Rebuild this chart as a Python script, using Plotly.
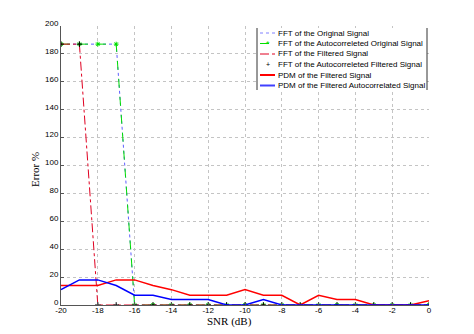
import plotly.graph_objects as go

snr = list(range(-20, 1))
fft_orig = [187, 187, 187, 187, 0, 0, 0, 0, 0, 0, 0, 0, 0, 0, 0, 0, 0, 0, 0, 0, 0]
fft_auto_orig = [187, 187, 187, 187, 0, 0, 0, 0, 0, 0, 0, 0, 0, 0, 0, 0, 0, 0, 0, 0, 0]
fft_filt = [187, 187, 0, 0, 0, 0, 0, 0, 0, 0, 0, 0, 0, 0, 0, 0, 0, 0, 0, 0, 0]
fft_auto_filt = [187, 187, 0, 0, 0, 0, 0, 0, 0, 0, 0, 0, 0, 0, 0, 0, 0, 0, 0, 0, 0]
pdm_filt = [14, 14, 14, 18, 18, 14, 11, 7, 7, 7, 11, 7, 7, 0, 7, 4, 4, 0, 0, 0, 3]
pdm_auto_filt = [11, 18, 18, 14, 7, 7, 4, 4, 4, 0, 0, 4, 0, 0, 0, 0, 0, 0, 0, 0, 0]

x_ticks = [-20, -18, -16, -14, -12, -10, -8, -6, -4, -2, 0]
y_ticks = [0, 20, 40, 60, 80, 100, 120, 140, 160, 180, 200]

series_names = [
    "FFT of the Original Signal",
    "FFT of the Autocorreleted Original Signal",
    "FFT of the Filtered Signal",
    "FFT of the Autocorreleted Filtered Signal",
    "PDM of the Filtered Signal",
    "PDM of the Filtered Autocorrelated Signal",
]

BLUE_DOT = "#6060ff"
GREEN = "#00e000"
RED_DD = "#e00020"

fig = go.Figure()
fig.add_trace(go.Scatter(x=snr, y=fft_orig, mode="lines", name=series_names[0],
                         line=dict(color=BLUE_DOT, width=1, dash="dot")))
fig.add_trace(go.Scatter(x=snr, y=fft_auto_orig, mode="lines+markers", name=series_names[1],
                         line=dict(color=GREEN, width=1, dash="dash"),
                         marker=dict(symbol="asterisk-open", size=4, color=GREEN, line=dict(color=GREEN, width=1))))
fig.add_trace(go.Scatter(x=snr, y=fft_filt, mode="lines", name=series_names[2],
                         line=dict(color=RED_DD, width=1, dash="dashdot")))
fig.add_trace(go.Scatter(x=snr, y=fft_auto_filt, mode="markers", name=series_names[3],
                         marker=dict(symbol="cross-thin-open", size=4, color="black", line=dict(color="black", width=1))))
fig.add_trace(go.Scatter(x=snr, y=pdm_filt, mode="lines", name=series_names[4],
                         line=dict(color="#ff0000", width=1.5)))
fig.add_trace(go.Scatter(x=snr, y=pdm_auto_filt, mode="lines", name=series_names[5],
                         line=dict(color="#0000ff", width=1.5)))

# ---- custom compact legend (paper coordinates) ----
L, R, T, B = 61, 429, 26, 305
def px(x):
    return (x - L) / (R - L)
def py(y):
    return (B - y) / (B - T)

shapes = []
annotations = []
shapes.append(dict(type="rect", xref="paper", yref="paper", x0=px(257), x1=px(427), y0=py(90), y1=py(28),
                   fillcolor="white", line=dict(width=0), layer="above"))
for xb in (257, 427):
    shapes.append(dict(type="line", xref="paper", yref="paper", x0=px(xb), x1=px(xb), y0=py(90), y1=py(28),
                       line=dict(color="#333", width=1), layer="above"))

rows = [33, 43.5, 54, 64.5, 75, 85.5]
styles = [
    dict(color="#8080ff", width=1, dash="dot"),
    dict(color=GREEN, width=1, dash="dash"),
    dict(color=RED_DD, width=1, dash="dashdot"),
    None,
    dict(color="#ff0000", width=2),
    dict(color="#4040ff", width=2),
]
for i, (name, ry) in enumerate(zip(series_names, rows)):
    if styles[i] is not None:
        shapes.append(dict(type="line", xref="paper", yref="paper", x0=px(260), x1=px(275), y0=py(ry), y1=py(ry),
                           line=styles[i], layer="above"))
    annotations.append(dict(xref="paper", yref="paper", x=px(276), y=py(ry), text=name, showarrow=False,
                            xanchor="left", yanchor="middle",
                            font=dict(family="Liberation Sans, Arial", size=8, color="black")))
annotations.append(dict(xref="paper", yref="paper", x=px(267.5), y=py(rows[1]), text="*", showarrow=False,
                        xanchor="center", yanchor="middle",
                        font=dict(family="Liberation Sans, Arial", size=9, color=GREEN)))
annotations.append(dict(xref="paper", yref="paper", x=px(267.5), y=py(rows[3]), text="+", showarrow=False,
                        xanchor="center", yanchor="middle",
                        font=dict(family="Liberation Sans, Arial", size=7, color="black")))

# axis titles
annotations.append(dict(xref="paper", yref="paper", x=px(229), y=py(321.5), text="SNR (dB)", showarrow=False,
                        xanchor="center", yanchor="middle",
                        font=dict(family="Liberation Serif, Times New Roman", size=11, color="black")))
annotations.append(dict(xref="paper", yref="paper", x=px(35), y=py(170), text="Error %", showarrow=False,
                        textangle=-90, xanchor="center", yanchor="middle",
                        font=dict(family="Liberation Serif, Times New Roman", size=11, color="black")))

fig.update_layout(
    width=474, height=334,
    margin=dict(l=L, r=474 - R, t=T, b=334 - B),
    paper_bgcolor="white", plot_bgcolor="white",
    font=dict(family="Liberation Sans, Arial", size=8, color="black"),
    showlegend=False,
    shapes=shapes,
    annotations=annotations,
)
fig.update_xaxes(range=[-20, 0], tickvals=x_ticks, ticktext=[str(v) for v in x_ticks],
                 showline=True, linecolor="#555", linewidth=1, ticks="inside", ticklen=3,
                 tickcolor="#555", showgrid=True, gridcolor="#c4c4c4", griddash="dot", gridwidth=1,
                 zeroline=False, tickfont=dict(size=8), ticklabelstandoff=-3)
fig.update_yaxes(range=[0, 200], tickvals=y_ticks, showline=True, linecolor="#555", linewidth=1,
                 ticks="inside", ticklen=3, tickcolor="#555", showgrid=True, gridcolor="#c4c4c4",
                 griddash="dot", gridwidth=1, zeroline=False, tickfont=dict(size=8), ticklabelshift=-3)

fig.write_html("out.html")
